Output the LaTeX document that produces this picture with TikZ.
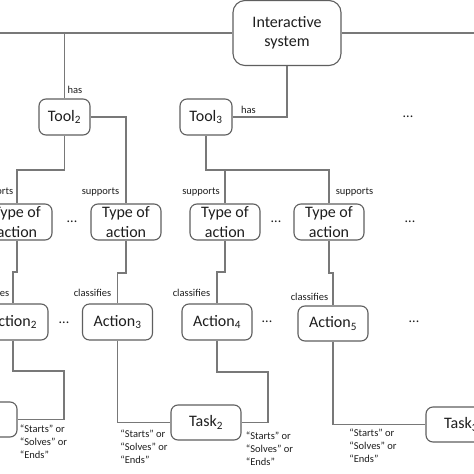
\documentclass[tikz,border=0pt]{standalone}
\usepackage{fontspec}
\setmainfont{Carlito}
\definecolor{boxc}{RGB}{95,95,95}
\definecolor{linec}{RGB}{120,120,120}
\definecolor{txtc}{RGB}{30,30,30}
\begin{document}
\begin{tikzpicture}[x=1pt,y=-1pt,
  box/.style={draw=boxc, line width=1.1pt, rounded corners=7pt, minimum width=70pt,
    minimum height=36pt, inner sep=0pt, align=center,
    font=\fontsize{16}{19.5}\selectfont, text=txtc},
  wire/.style={draw=linec, line width=1.3pt},
  lbl/.style={font=\fontsize{10.5}{13}\selectfont, text=txtc, inner sep=0pt, align=left},
  dotsn/.style={font=\fontsize{14}{16}\selectfont, text=txtc, inner sep=0pt}]
\useasboundingbox (0,0) rectangle (474,474);
\clip (0,0) rectangle (474,474);
\fill[white] (0,0) rectangle (474,474);

% boxes
\node[box, minimum width=108pt, minimum height=65pt, rounded corners=12pt] (sys) at (287,33) {Interactive\\system};
\node[box, minimum width=51pt] (tool2) at (64.5,117) {Tool\textsubscript{2}};
\node[box, minimum width=52pt] (tool3) at (206,117) {Tool\textsubscript{3}};
\node[box] (toa1) at (17,222) {Type of\\action};
\node[box] (toa2) at (126,222) {Type of\\action};
\node[box] (toa3) at (225,222) {Type of\\action};
\node[box] (toa4) at (329,222) {Type of\\action};
\node[box] (act2) at (13,322) {Action\textsubscript{2}};
\node[box] (act3) at (117.5,322) {Action\textsubscript{3}};
\node[box] (act4) at (217,322) {Action\textsubscript{4}};
\node[box, minimum height=35pt] (act5) at (333,323.5) {Action\textsubscript{5}};
\node[box, minimum height=35pt] (task1) at (-18,419.5) {};
\node[box, minimum height=35pt] (task2) at (206,422.5) {Task\textsubscript{2}};
\node[box, minimum height=35pt] (task3) at (461,424.5) {Task\textsubscript{3}};

% dots
\node[dotsn] (d1) at (408,117) {...};
\node[dotsn] (d2) at (72,222) {...};
\node[dotsn] (d3) at (276,222) {...};
\node[dotsn] (d4) at (410,222) {...};
\node[dotsn] (d5) at (64,323) {...};
\node[dotsn] (d6) at (267,322) {...};
\node[dotsn] (d7) at (414,322) {...};

% coordinates
\coordinate (lft) at (0,33);
\coordinate (rgt) at (474,33);
\coordinate (j1) at (64.5,33);
\coordinate (c1) at (64.5,170);
\coordinate (c2) at (206,170);
\coordinate (c3) at (225,170);
\coordinate (k1) at (17,272);
\coordinate (k1b) at (13,272);
\coordinate (k2) at (126,273);
\coordinate (k2b) at (117.5,273);
\coordinate (k3) at (225,272);
\coordinate (k3b) at (217,272);
\coordinate (k4) at (329,273);
\coordinate (k4b) at (333,273);
\coordinate (m1) at (13,371);
\coordinate (m1b) at (64,371);
\coordinate (m3) at (217,372);
\coordinate (m3b) at (268,372);

% connectors
\draw[wire] (lft) -- (sys.west);
\draw[wire] (sys.east) -- (rgt);
\draw[wire] (j1) -- (tool2.north);
\draw[wire] (tool3.east) -| (sys.south);
\draw[wire] (tool2.east) -| (toa2.north);
\draw[wire] (tool2.south) -- (c1) -| (toa1.north);
\draw[wire] (tool3.south) -- (c2) -| (toa4.north);
\draw[wire] (c3) -- (toa3.north);
\draw[wire] (toa1.south) -- (k1) -- (k1b) -- (act2.north);
\draw[wire] (toa2.south) -- (k2) -- (k2b) -- (act3.north);
\draw[wire] (toa3.south) -- (k3) -- (k3b) -- (act4.north);
\draw[wire] (toa4.south) -- (k4) -- (k4b) -- (act5.north);
\draw[wire] (act2.south) -- (m1) -- (m1b) |- (task1.east);
\draw[wire] (act3.south) |- (task2.west);
\draw[wire] (act4.south) -- (m3) -- (m3b) |- (task2.east);
\draw[wire] (act5.south) |- (task3.west);

% labels
\node[lbl] (has1) at (75,90) {has};
\node[lbl] (has2) at (248.5,110) {has};
\node[lbl] (sup1) at (-5.5,192) {supports};
\node[lbl] (sup2) at (100.5,192) {supports};
\node[lbl] (sup3) at (201,192) {supports};
\node[lbl] (sup4) at (354.5,192) {supports};
\node[lbl] (cls1) at (-9.5,293) {classifies};
\node[lbl] (cls2) at (92.5,293) {classifies};
\node[lbl] (cls3) at (191.5,293) {classifies};
\node[lbl] (cls4) at (309.5,297) {classifies};
\node[lbl] (sol1) at (43.5,442) {“Starts” or\\“Solves” or\\“Ends”};
\node[lbl] (sol2) at (144,447) {“Starts” or\\“Solves” or\\“Ends”};
\node[lbl] (sol3) at (269.5,449) {“Starts” or\\“Solves” or\\“Ends”};
\node[lbl] (sol4) at (373,446) {“Starts” or\\“Solves” or\\“Ends”};
\end{tikzpicture}
\end{document}
